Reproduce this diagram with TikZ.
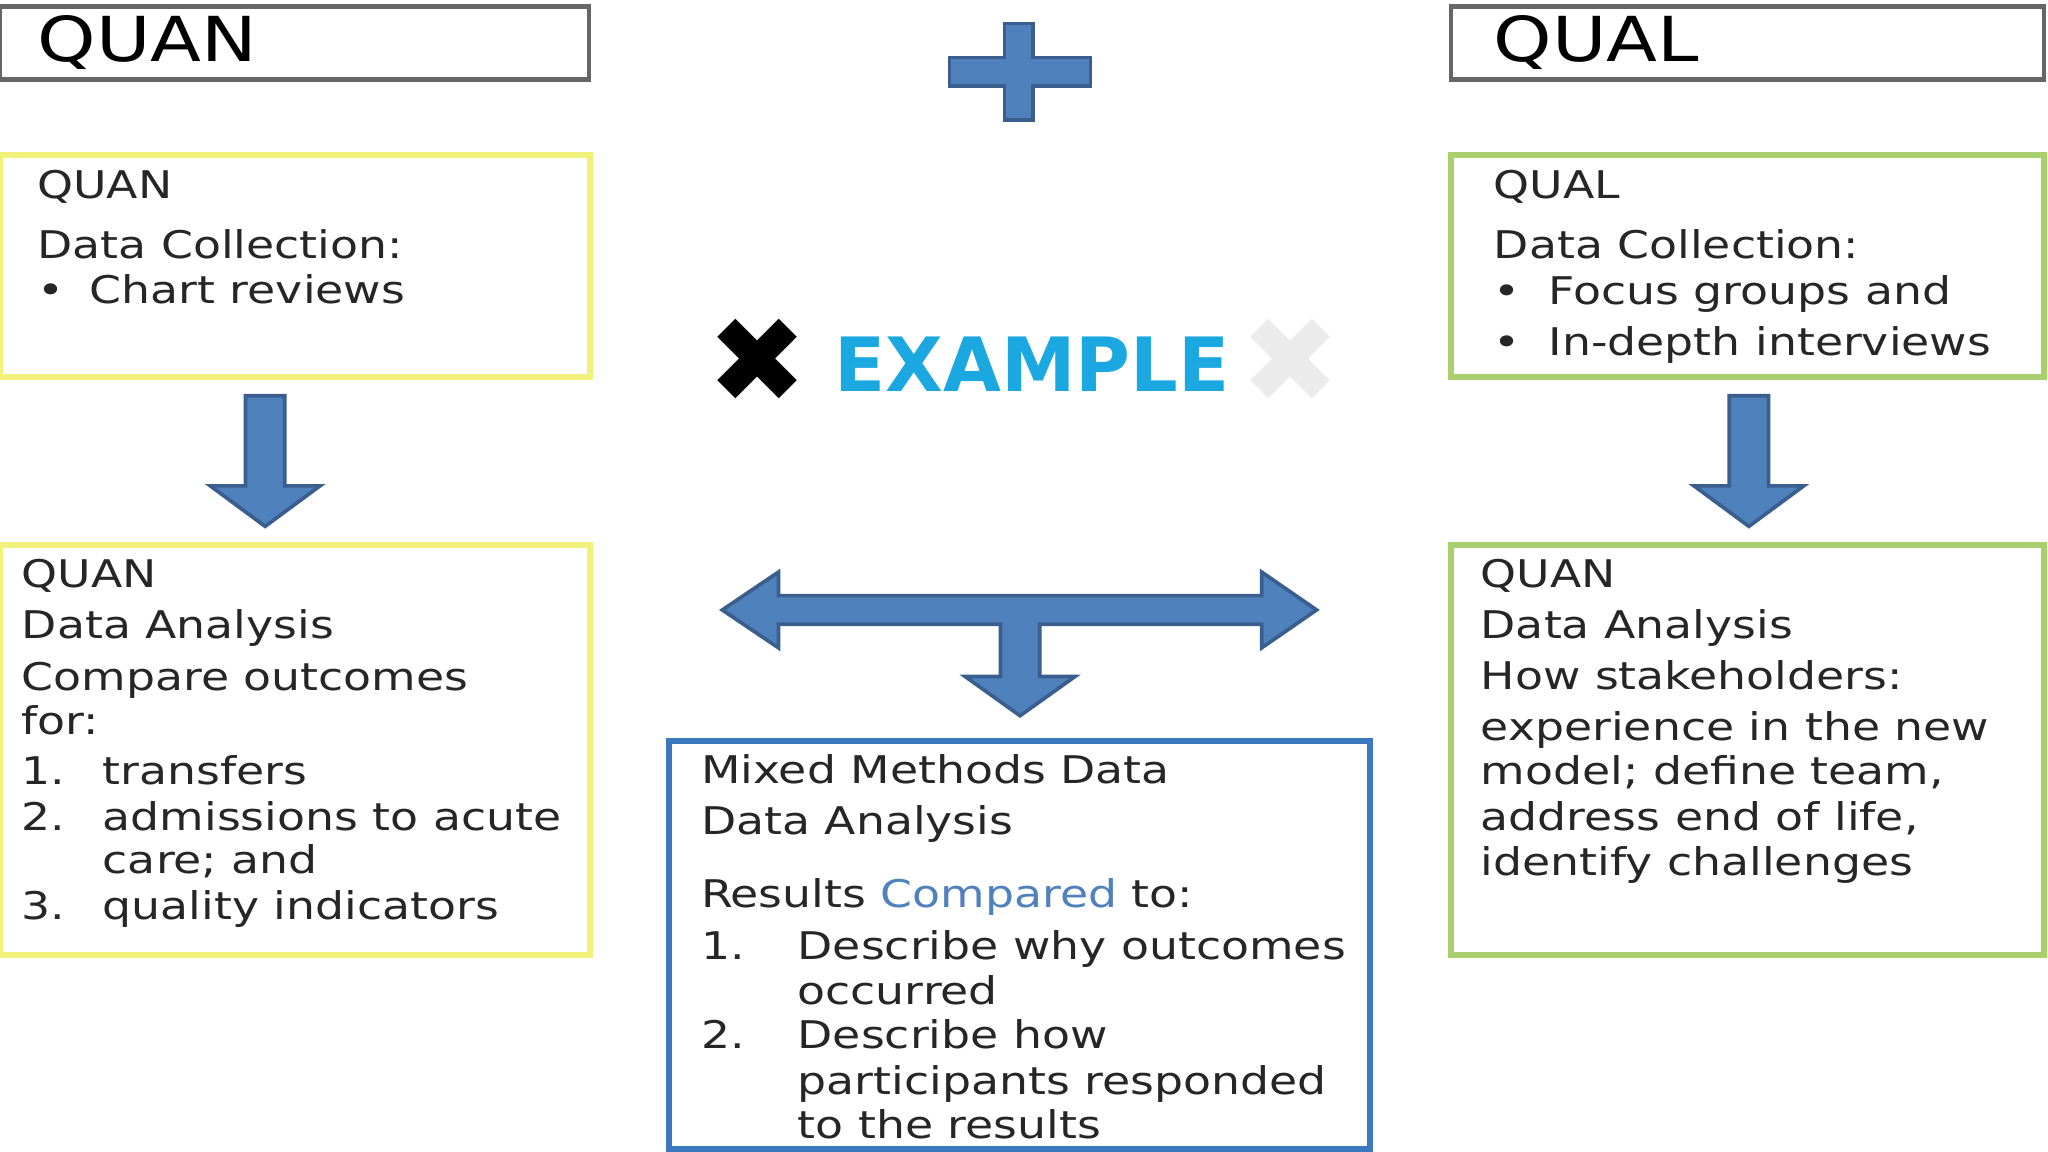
\documentclass[tikz,border=0pt]{standalone}
\usepackage{fontspec}
\setmainfont[FakeStretch=1.2]{DejaVu Sans}
\newfontfamily\exfont{DejaVu Sans}
\definecolor{arr}{HTML}{4F81BD}
\definecolor{arrd}{HTML}{3A5F8F}
\definecolor{yel}{HTML}{F2F27A}
\definecolor{grn}{HTML}{A9CF6E}
\definecolor{bbx}{HTML}{3C78C0}
\definecolor{cy}{HTML}{1BA8E0}
\begin{document}
\begin{tikzpicture}[x=0.01cm,y=-0.01cm,
  t/.style={anchor=base west,inner sep=0pt,font=\fontsize{8.3}{10}\selectfont,text=black!85},
  tt/.style={anchor=base west,inner sep=0pt,font=\fontsize{13.5}{16}\selectfont},
  bx/.style={line width=1.3pt},
  ar/.style={fill=arr,draw=arrd,line width=0.8pt}]
\useasboundingbox[fill=white] (0,0) rectangle (1568,882);
% top boxes
\draw[draw=black!60,line width=1pt] (0,5) rectangle (451,61);
\node[tt] (quan) at (28,47) {QUAN};
\draw[draw=black!60,line width=1pt] (1111,5) rectangle (1565,61);
\node[tt] (qual) at (1143,47) {QUAL};
% plus
\draw[ar] (769,18) -- (791,18) -- (791,44) -- (835,44) -- (835,66) -- (791,66) -- (791,92) -- (769,92) -- (769,66) -- (727,66) -- (727,44) -- (769,44) -- cycle;
% collection boxes
\draw[bx,draw=yel] (0,119) rectangle (452,289);
\node[t] at (28,152) {QUAN};
\node[t] at (28,198) {Data Collection:};
\node[t] at (28,232) {\textbullet};
\node[t] at (68,232) {Chart reviews};
\draw[bx,draw=grn] (1111,119) rectangle (1565,289);
\node[t] at (1143,152) {QUAL};
\node[t] at (1143,198) {Data Collection:};
\node[t] at (1143,233) {\textbullet};
\node[t] at (1185,233) {Focus groups and};
\node[t] at (1143,272) {\textbullet};
\node[t] at (1185,272) {In-depth interviews};
% down arrows
\foreach \c in {203,1339}{
\draw[ar] (\c-15,303) -- (\c+15,303) -- (\c+15,372) -- (\c+42,372) -- (\c,403) -- (\c-42,372) -- (\c-15,372) -- cycle;}
% watermark
\node[font=\exfont\fontsize{26}{26}\selectfont\bfseries] at (580,276) {\char"2716};
\node[anchor=west,inner sep=0pt,text=cy,font=\exfont\fontsize{16.3}{18}\selectfont\bfseries] at (638,279) {EXAMPLE};
\node[text=black!8,font=\exfont\fontsize{26}{26}\selectfont\bfseries] at (988,276) {\char"2716};
% analysis boxes
\draw[bx,draw=yel] (0,417) rectangle (452,731);
\node[t] at (16,450) {QUAN};
\node[t] at (16,489) {Data Analysis};
\node[t] at (16,529) {Compare outcomes};
\node[t] at (16,562) {for:};
\node[t] at (16,601) {1.}; \node[t] at (78,601) {transfers};
\node[t] at (16,636) {2.}; \node[t] at (78,636) {admissions to acute};
\node[t] at (78,669) {care; and};
\node[t] at (16,704) {3.}; \node[t] at (78,704) {quality indicators};
\draw[bx,draw=grn] (1111,417) rectangle (1565,731);
\node[t] at (1133,450) {QUAN};
\node[t] at (1133,489) {Data Analysis};
\node[t] at (1133,528) {How stakeholders:};
\node[t] at (1133,567) {experience in the new};
\node[t] at (1133,601) {model; define team,};
\node[t] at (1133,636) {address end of life,};
\node[t] at (1133,670) {identify challenges};
% T arrow
\draw[ar] (596,456) -- (766,456) -- (966,456) -- (966,438) -- (1008,467) -- (966,496) -- (966,478) -- (796,478) -- (796,518) -- (823,518) -- (781,548) -- (739,518) -- (766,518) -- (766,478) -- (596,478) -- (596,496) -- (553,467) -- (596,438) -- cycle;
% mixed box
\draw[bx,draw=bbx] (512,567) rectangle (1049,880);
\node[t] at (536,600) {Mixed Methods Data};
\node[t] at (536,639) {Data Analysis};
\node[t] at (536,695) {Results \textcolor{arr}{Compared} to:};
\node[t] at (536,735) {1.}; \node[t] at (610,735) {Describe why outcomes};
\node[t] at (610,769) {occurred};
\node[t] at (536,803) {2.}; \node[t] at (610,803) {Describe how};
\node[t] at (610,838) {participants responded};
\node[t] at (610,872) {to the results};
\end{tikzpicture}
\end{document}
